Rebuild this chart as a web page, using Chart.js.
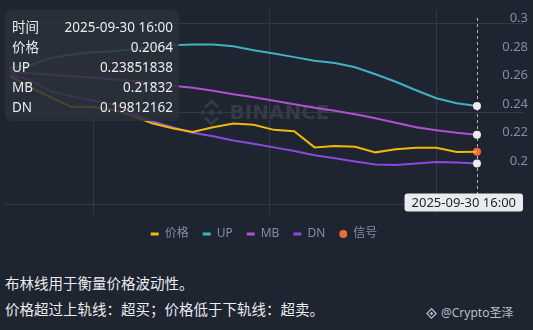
<!DOCTYPE html>
<html>
<head>
<meta charset="utf-8">
<script src="https://cdn.jsdelivr.net/npm/chart.js@4.4.1/dist/chart.umd.min.js"></script>
<style>
  html, body { margin: 0; padding: 0; background: #1e2430; }
  body { width: 533px; height: 330px; overflow: hidden; position: relative;
         font-family: 'Noto Sans', 'Noto Sans CJK SC', sans-serif; }
  #wrap { position: absolute; left: 0; top: 0; width: 533px; height: 250px; }
  #tip { position: absolute; left: 5px; top: 10px; width: 174px; box-sizing: border-box;
         padding: 7px 6px 4px 7px; background: rgba(43, 49, 58, 0.86); border-radius: 6px;
         color: #eaecef; font-size: 13.5px; display: none; }
  #tip .row { display: flex; justify-content: space-between; height: 20px; line-height: 20px; white-space: nowrap; }
  #note { position: absolute; left: 5px; top: 270px; color: #eaecef; font-size: 14.5px; line-height: 26px; white-space: nowrap; }
  #mark { position: absolute; left: 426px; top: 304px; height: 18px; line-height: 18px; color: #b7bdc6;
          font-size: 12px; display: flex; align-items: center; gap: 4px; white-space: nowrap; }
</style>
</head>
<body>
<div id="wrap">
  <canvas id="c" width="533" height="250"></canvas>
  <div id="tip"></div>
</div>
<div id="note">布林线用于衡量价格波动性。<br>价格超过上轨线：超买；价格低于下轨线：超卖。</div>
<div id="mark">
  <svg width="11" height="11" viewBox="0 0 12 12"><path d="M6 0.9 L11.1 6 L6 11.1 L0.9 6Z" fill="none" stroke="#b7bdc6" stroke-width="1.4"/><path d="M6 4 L8 6 L6 8 L4 6Z" fill="#b7bdc6"/></svg>
  <span>@Crypto圣泽</span>
</div>
<script>
// Hourly candles, Bollinger band (UP / MB / DN) and the close price
const times = [
  '2025-09-29 17:00', '2025-09-29 18:00', '2025-09-29 19:00', '2025-09-29 20:00',
  '2025-09-29 21:00', '2025-09-29 22:00', '2025-09-29 23:00', '2025-09-30 00:00',
  '2025-09-30 01:00', '2025-09-30 02:00', '2025-09-30 03:00', '2025-09-30 04:00',
  '2025-09-30 05:00', '2025-09-30 06:00', '2025-09-30 07:00', '2025-09-30 08:00',
  '2025-09-30 09:00', '2025-09-30 10:00', '2025-09-30 11:00', '2025-09-30 12:00',
  '2025-09-30 13:00', '2025-09-30 14:00', '2025-09-30 15:00', '2025-09-30 16:00'
];
const price = [0.2595, 0.2518, 0.2447, 0.2380, 0.2379, 0.2363, 0.2320, 0.2264, 0.2229, 0.2203, 0.2236, 0.2262,
               0.2254, 0.2218, 0.2208, 0.2095, 0.2104, 0.2099, 0.2060, 0.2081, 0.2092, 0.2093, 0.2062, 0.2064];
const up    = [0.2651, 0.2673, 0.2722, 0.2746, 0.2764, 0.2771, 0.2782, 0.2799, 0.2813, 0.2818, 0.2817, 0.2806,
               0.2778, 0.2754, 0.2729, 0.2704, 0.2687, 0.2658, 0.2609, 0.2556, 0.2496, 0.2440, 0.2405, 0.23851838];
const mb    = [0.2627, 0.2616, 0.2606, 0.2595, 0.2585, 0.2574, 0.2563, 0.2546, 0.2528, 0.2514, 0.2493, 0.2468,
               0.2447, 0.2423, 0.2398, 0.2373, 0.2352, 0.2327, 0.2299, 0.2268, 0.2236, 0.2215, 0.2197, 0.21832];
const dn    = [0.2609, 0.2567, 0.2489, 0.2454, 0.2426, 0.2398, 0.2342, 0.2278, 0.2236, 0.2197, 0.2173, 0.2144,
               0.2120, 0.2095, 0.2070, 0.2039, 0.2018, 0.1996, 0.1975, 0.1972, 0.1982, 0.1993, 0.1989, 0.19812162];
// signal markers: candle indexes where a signal fires (placed on the price)
const signalIdx = [23];
const yTickLabels = ['0.2', '0.22', '0.24', '0.26', '0.28', '0.3'];
// background grid positions (in axis units)
const gridX = [4.09, 12.8, 21.0];
const gridY = [0.1694, 0.2342, 0.2968];

const lastIdx = times.length - 1;
const pts = arr => arr.map((v, i) => ({ x: i, y: v }));
const Y_MIN = 0.1627, Y_MAX = 0.306;
const GRID = '#323844';
const FONT = "'Noto Sans', 'Noto Sans CJK SC', sans-serif";
Chart.defaults.font.family = FONT;

const endDot = c => (c.dataIndex === lastIdx ? 4 : 0);

const bandLine = (label, data, color) => ({
  label, data: pts(data), borderColor: color, backgroundColor: color, borderWidth: 2,
  pointRadius: endDot, pointHoverRadius: endDot, pointBackgroundColor: '#eaecef',
  pointHoverBackgroundColor: '#eaecef', pointBorderWidth: 0, pointHoverBorderWidth: 0,
  tension: 0, xAxisID: 'x', yAxisID: 'y'
});

const crosshair = {
  id: 'crosshair',
  beforeDatasetsDraw(chart) {
    const { ctx, chartArea, scales } = chart;
    const px = scales.x.getPixelForValue(lastIdx);
    ctx.save();
    ctx.strokeStyle = '#aeb4bc';
    ctx.lineWidth = 1;
    ctx.setLineDash([3, 3]);
    ctx.beginPath();
    ctx.moveTo(Math.round(px) + 0.5, chartArea.top + 8);
    ctx.lineTo(Math.round(px) + 0.5, chartArea.bottom - 20);
    ctx.stroke();
    ctx.restore();
  },
  afterDraw(chart) {
    const { ctx, chartArea, scales } = chart;
    const px = scales.x.getPixelForValue(lastIdx);
    const text = times[lastIdx];
    ctx.save();
    ctx.font = '13px ' + FONT;
    const w = ctx.measureText(text).width + 14;
    const h = 18;
    let left = px - w / 2;
    left = Math.min(left, chartArea.right - 1 - w);
    const top = chartArea.bottom - 20.5;
    ctx.fillStyle = '#e9ebee';
    ctx.beginPath();
    ctx.roundRect(left, top, w, h, 3);
    ctx.fill();
    ctx.fillStyle = '#1e2329';
    ctx.textBaseline = 'middle';
    ctx.textAlign = 'center';
    ctx.fillText(text, left + w / 2, top + h / 2 + 0.5);
    ctx.restore();
  }
};

const watermark = {
  id: 'watermark',
  beforeDatasetsDraw(chart) {
    const { ctx, chartArea } = chart;
    const cx = (chartArea.left + chartArea.right) / 2;
    const cy = (chartArea.top + chartArea.bottom) / 2 + 0.5;
    const col = '#353b46';
    ctx.save();
    ctx.font = 'bold 20px "DejaVu Sans", sans-serif';
    const tw = ctx.measureText('BINANCE').width;
    const logo = 24, gap = 6;
    const start = cx - (logo + gap + tw) / 2;
    const lx = start + logo / 2;
    ctx.fillStyle = col;
    ctx.strokeStyle = col;
    const diamond = (x, y, r) => {
      ctx.beginPath();
      ctx.moveTo(x, y - r); ctx.lineTo(x + r, y); ctx.lineTo(x, y + r); ctx.lineTo(x - r, y);
      ctx.closePath(); ctx.fill();
    };
    diamond(lx, cy, 3.6);
    diamond(lx - 8.5, cy, 2.6);
    diamond(lx + 8.5, cy, 2.6);
    ctx.lineWidth = 3;
    ctx.beginPath();
    ctx.moveTo(lx - 6.5, cy - 5); ctx.lineTo(lx, cy - 11.5); ctx.lineTo(lx + 6.5, cy - 5);
    ctx.moveTo(lx - 6.5, cy + 5); ctx.lineTo(lx, cy + 11.5); ctx.lineTo(lx + 6.5, cy + 5);
    ctx.stroke();
    ctx.textBaseline = 'middle';
    ctx.textAlign = 'left';
    ctx.fillText('BINANCE', start + logo + gap, cy + 1);
    ctx.restore();
  }
};

function renderTip(context) {
  const tip = document.getElementById('tip');
  const model = context.tooltip;
  const dps = model.dataPoints || [];
  if (!dps.length) { tip.style.display = 'none'; return; }
  const rows = [['时间', times[dps[0].dataIndex]]];
  dps.forEach(dp => rows.push([dp.dataset.label, String(dp.raw.y)]));
  tip.innerHTML = rows.map(r => '<div class="row"><span>' + r[0] + '</span><span>' + r[1] + '</span></div>').join('');
  tip.style.display = 'block';
}

const chart = new Chart(document.getElementById('c'), {
  type: 'line',
  data: {
    datasets: [
      { label: '价格', data: pts(price), borderColor: '#f0b90b', backgroundColor: '#f0b90b', borderWidth: 2,
        pointRadius: 0, pointHoverRadius: 0, tension: 0, xAxisID: 'x', yAxisID: 'y' },
      bandLine('UP', up, '#3fb3c3'),
      bandLine('MB', mb, '#b052d0'),
      bandLine('DN', dn, '#8a4bdb'),
      { label: '信号', data: signalIdx.map(i => ({ x: i, y: price[i] })), showLine: false,
        borderColor: '#f26a3b', backgroundColor: '#f26a3b', pointRadius: 4, pointHoverRadius: 4,
        pointBorderWidth: 0, pointHoverBorderWidth: 0, xAxisID: 'x', yAxisID: 'y' }
    ]
  },
  options: {
    responsive: false,
    devicePixelRatio: 1,
    animation: false,
    events: [],
    layout: { padding: { top: 10, left: 0, right: 5, bottom: 0 } },
    scales: {
      x: {
        type: 'linear', min: -0.2463, max: 25.316,
        afterBuildTicks: s => { s.ticks = gridX.map(v => ({ value: v })); },
        ticks: { display: false },
        grid: { color: GRID, drawTicks: false },
        border: { display: false }
      },
      y: {
        type: 'linear', position: 'right', min: Y_MIN, max: Y_MAX,
        afterBuildTicks: s => { s.ticks = yTickLabels.map(t => ({ value: parseFloat(t) })); },
        ticks: { mirror: true, padding: 4, color: '#848e9c', font: { size: 13 },
                 callback: (v, i) => yTickLabels[i] },
        grid: { display: false, drawTicks: false },
        border: { display: false },
        afterFit: s => { s.width = 4; s.paddingTop = 0; s.paddingBottom = 0; }
      },
      yGrid: {
        type: 'linear', position: 'left', min: Y_MIN, max: Y_MAX,
        afterBuildTicks: s => { s.ticks = gridY.map(v => ({ value: v })); },
        ticks: { display: false },
        grid: { color: GRID, drawTicks: false },
        border: { display: false },
        afterFit: s => { s.width = 5; }
      }
    },
    plugins: {
      legend: {
        position: 'bottom',
        labels: {
          color: '#848e9c', font: { size: 12 }, padding: 14,
          usePointStyle: true, pointStyleWidth: 8, boxHeight: 5.657,
          generateLabels: ch => ch.data.datasets.map((d, i) => ({
            text: d.label, datasetIndex: i, hidden: false, fontColor: '#848e9c',
            fillStyle: d.borderColor, strokeStyle: d.borderColor,
            lineWidth: d.showLine === false ? 0 : 3,
            pointStyle: d.showLine === false ? 'circle' : 'line'
          }))
        }
      },
      tooltip: {
        enabled: false,
        external: renderTip,
        filter: item => item.datasetIndex < 4
      }
    }
  },
  plugins: [watermark, crosshair]
});

chart.tooltip.setActiveElements(
  [0, 1, 2, 3].map(d => ({ datasetIndex: d, index: lastIdx })),
  { x: chart.scales.x.getPixelForValue(lastIdx), y: chart.chartArea.top }
);
chart.draw();
</script>
</body>
</html>
